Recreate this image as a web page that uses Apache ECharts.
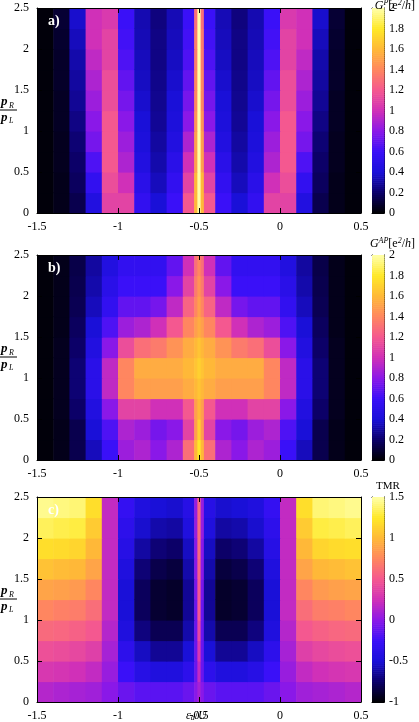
<!DOCTYPE html><html><head><meta charset="utf-8">
<script src="https://cdn.jsdelivr.net/npm/echarts@6/dist/echarts.min.js"></script>
<style>html,body{margin:0;padding:0;background:#fff}#c{width:419px;height:722px}</style></head><body><div id="c"></div>
<script>
const xEdges=[-1.5,-1.4,-1.3,-1.2,-1.1,-1.0,-0.9,-0.8,-0.7,-0.6,-0.53,-0.51,-0.49,-0.47,-0.4,-0.3,-0.2,-0.1,0,0.1,0.2,0.3,0.4,0.5];
const yEdges=[0,0.25,0.5,0.75,1,1.25,1.5,1.75,2,2.25,2.5];
const xTicks=[-1.5,-1,-0.5,0,0.5];
const gTicks=[0,0.2,0.4,0.6,0.8,1,1.2,1.4,1.6,1.8,2];
const tmrTicks=[-1,-0.5,0,0.5,1,1.5];
const panelA=[
[0.02,0.05,0.15,0.45,1.1,1.1,0.55,0.4,0.6,1.2,1.6,2.0,1.6,1.2,0.6,0.4,0.55,1.1,1.1,0.45,0.15,0.05,0.02],
[0.02,0.05,0.18,0.55,1.15,1.0,0.5,0.35,0.55,1.1,1.6,2.0,1.6,1.1,0.55,0.35,0.5,1.0,1.15,0.55,0.18,0.05,0.02],
[0.02,0.06,0.2,0.65,1.2,0.9,0.45,0.32,0.5,1.0,1.5,2.0,1.5,1.0,0.5,0.32,0.45,0.9,1.2,0.65,0.2,0.06,0.02],
[0.02,0.06,0.22,0.75,1.2,0.85,0.42,0.3,0.45,0.9,1.5,2.0,1.5,0.9,0.45,0.3,0.42,0.85,1.2,0.75,0.22,0.06,0.02],
[0.02,0.07,0.25,0.8,1.2,0.8,0.4,0.28,0.42,0.8,1.45,2.0,1.45,0.8,0.42,0.28,0.4,0.8,1.2,0.8,0.25,0.07,0.02],
[0.02,0.07,0.28,0.85,1.15,0.75,0.38,0.27,0.4,0.75,1.4,2.0,1.4,0.75,0.4,0.27,0.38,0.75,1.15,0.85,0.28,0.07,0.02],
[0.02,0.08,0.3,0.9,1.15,0.7,0.36,0.26,0.38,0.7,1.4,2.0,1.4,0.7,0.38,0.26,0.36,0.7,1.15,0.9,0.3,0.08,0.02],
[0.02,0.08,0.32,0.95,1.1,0.65,0.35,0.25,0.36,0.65,1.35,2.0,1.35,0.65,0.36,0.25,0.35,0.65,1.1,0.95,0.32,0.08,0.02],
[0.02,0.09,0.35,1.0,1.1,0.62,0.34,0.25,0.35,0.62,1.35,2.0,1.35,0.62,0.35,0.25,0.34,0.62,1.1,1.0,0.35,0.09,0.02],
[0.02,0.1,0.38,1.0,1.05,0.6,0.33,0.24,0.34,0.6,1.3,2.0,1.3,0.6,0.34,0.24,0.33,0.6,1.05,1.0,0.38,0.1,0.02]];
const panelB=[
[0.02,0.05,0.15,0.35,0.6,0.85,0.9,0.8,0.9,1.3,1.6,1.8,1.6,1.3,0.9,0.8,0.9,0.85,0.6,0.35,0.15,0.05,0.02],
[0.02,0.05,0.15,0.4,0.65,0.9,0.85,0.75,0.8,1.1,1.5,1.7,1.5,1.1,0.8,0.75,0.85,0.9,0.65,0.4,0.15,0.05,0.02],
[0.02,0.06,0.2,0.45,0.8,1.1,1.1,1.0,1.0,1.2,1.5,1.6,1.5,1.2,1.0,1.0,1.1,1.1,0.8,0.45,0.2,0.06,0.02],
[0.02,0.06,0.22,0.5,0.95,1.4,1.5,1.5,1.5,1.55,1.6,1.65,1.6,1.55,1.5,1.5,1.5,1.4,0.95,0.5,0.22,0.06,0.02],
[0.02,0.06,0.22,0.5,0.95,1.4,1.55,1.55,1.55,1.6,1.65,1.7,1.65,1.6,1.55,1.55,1.55,1.4,0.95,0.5,0.22,0.06,0.02],
[0.02,0.06,0.2,0.45,0.8,1.15,1.3,1.35,1.45,1.55,1.6,1.65,1.6,1.55,1.45,1.35,1.3,1.15,0.8,0.45,0.2,0.06,0.02],
[0.02,0.05,0.18,0.4,0.65,0.85,0.9,1.0,1.2,1.4,1.5,1.55,1.5,1.4,1.2,1.0,0.9,0.85,0.65,0.4,0.18,0.05,0.02],
[0.02,0.05,0.16,0.35,0.55,0.7,0.7,0.75,0.95,1.25,1.4,1.5,1.4,1.25,0.95,0.75,0.7,0.7,0.55,0.35,0.16,0.05,0.02],
[0.02,0.05,0.15,0.32,0.5,0.6,0.6,0.6,0.8,1.1,1.35,1.45,1.35,1.1,0.8,0.6,0.6,0.6,0.5,0.32,0.15,0.05,0.02],
[0.02,0.05,0.14,0.3,0.45,0.55,0.55,0.55,0.7,1.0,1.3,1.4,1.3,1.0,0.7,0.55,0.55,0.55,0.45,0.3,0.14,0.05,0.02]];
const panelC=[
[0.15,0.12,0.1,0.08,0.0,-0.1,-0.15,-0.15,-0.15,-0.1,0.0,0.1,0.0,-0.1,-0.15,-0.15,-0.15,-0.1,0.0,0.08,0.1,0.12,0.15],
[0.3,0.28,0.25,0.2,0.05,-0.25,-0.4,-0.45,-0.45,-0.35,-0.1,0.2,-0.1,-0.35,-0.45,-0.45,-0.4,-0.25,0.05,0.2,0.25,0.28,0.3],
[0.45,0.43,0.4,0.35,0.1,-0.35,-0.55,-0.65,-0.65,-0.5,-0.1,0.3,-0.1,-0.5,-0.65,-0.65,-0.55,-0.35,0.1,0.35,0.4,0.43,0.45],
[0.6,0.58,0.55,0.5,0.15,-0.45,-0.7,-0.8,-0.8,-0.6,-0.1,0.4,-0.1,-0.6,-0.8,-0.8,-0.7,-0.45,0.15,0.5,0.55,0.58,0.6],
[0.75,0.72,0.7,0.62,0.2,-0.5,-0.78,-0.88,-0.9,-0.65,-0.1,0.5,-0.1,-0.65,-0.9,-0.88,-0.78,-0.5,0.2,0.62,0.7,0.72,0.75],
[0.9,0.88,0.85,0.75,0.2,-0.5,-0.78,-0.88,-0.9,-0.65,-0.05,0.5,-0.05,-0.65,-0.9,-0.88,-0.78,-0.5,0.2,0.75,0.85,0.88,0.9],
[1.05,1.02,1.0,0.9,0.2,-0.45,-0.72,-0.82,-0.85,-0.6,0.0,0.55,0.0,-0.6,-0.85,-0.82,-0.72,-0.45,0.2,0.9,1.0,1.02,1.05],
[1.2,1.18,1.15,1.0,0.2,-0.4,-0.62,-0.72,-0.75,-0.55,0.0,0.6,0.0,-0.55,-0.75,-0.72,-0.62,-0.4,0.2,1.0,1.15,1.18,1.2],
[1.35,1.32,1.3,1.1,0.2,-0.35,-0.52,-0.6,-0.62,-0.45,0.05,0.6,0.05,-0.45,-0.62,-0.6,-0.52,-0.35,0.2,1.1,1.3,1.32,1.35],
[1.45,1.42,1.4,1.2,0.2,-0.3,-0.45,-0.5,-0.52,-0.4,0.05,0.6,0.05,-0.4,-0.52,-0.5,-0.45,-0.3,0.2,1.2,1.4,1.42,1.45]];
const palette=['#000000','#0c0068','#1a10d8','#3a10f8','#8a18e8','#d030b8','#f45890','#ff8660','#ffb838','#ffe828','#ffffa8'];
const FONT='Liberation Serif';
const tops=[8,255,497], H=205, L=37, W=324;
function cells(m){const d=[];m.forEach((row,j)=>row.forEach((v,i)=>d.push([xEdges[i],xEdges[i+1],yEdges[j],yEdges[j+1],v])));return d;}
function barCells(min,max){const d=[],n=100;for(let k=0;k<n;k++){const a=min+(max-min)*k/n,b=min+(max-min)*(k+1)/n;d.push([0,1,a,b,(a+b)/2]);}return d;}
function rect(p,api){const a=api.coord([api.value(0),api.value(3)]),b=api.coord([api.value(1),api.value(2)]);
 return {type:'rect',shape:{x:a[0],y:a[1],width:b[0]-a[0]+0.6,height:b[1]-a[1]+0.6},style:{fill:api.visual('color')}};}
const grid=[],xAxis=[],yAxis=[],series=[],visualMap=[];
const lab={fontFamily:FONT,fontSize:12,color:'#000'};
const line={show:true,onZero:false,lineStyle:{color:'#000'}};
const ranges=[[0,2,gTicks,0.2],[0,2,gTicks,0.2],[-1,1.5,tmrTicks,0.5]];
[panelA,panelB,panelC].forEach((m,p)=>{
 const gi=grid.length;
 grid.push({left:L,top:tops[p],width:W,height:H});
 grid.push({left:372,top:tops[p],width:12,height:H});
 const ax={type:'value',min:-1.5,max:0.5,interval:0.5,gridIndex:gi,axisLine:line,axisTick:{inside:true,length:5,lineStyle:{color:'#000'}},axisLabel:{...lab,margin:8},splitLine:{show:false},z:10};
 xAxis.push(ax);
 xAxis.push({...ax,position:'top',axisLabel:{show:false}});
 const ay={type:'value',min:0,max:2.5,interval:0.5,gridIndex:gi,axisLine:line,axisTick:{inside:true,length:5,lineStyle:{color:'#000'}},axisLabel:{...lab,margin:8},splitLine:{show:false},z:10};
 yAxis.push(ay);
 yAxis.push({...ay,position:'right',axisLabel:{show:false}});
 const [mn,mx,tk,iv]=ranges[p];
 xAxis.push({type:'value',min:0,max:1,gridIndex:gi+1,axisLine:line,axisTick:{show:false},axisLabel:{show:false},splitLine:{show:false}});
 xAxis.push({type:'value',min:0,max:1,gridIndex:gi+1,position:'top',axisLine:line,axisTick:{show:false},axisLabel:{show:false},splitLine:{show:false}});
 yAxis.push({type:'value',min:mn,max:mx,interval:iv,gridIndex:gi+1,position:'right',axisLine:line,axisTick:{inside:true,length:3,lineStyle:{color:'#000'}},axisLabel:{...lab,margin:5},splitLine:{show:false}});
 yAxis.push({type:'value',min:mn,max:mx,gridIndex:gi+1,position:'left',axisLine:line,axisTick:{show:false},axisLabel:{show:false},splitLine:{show:false}});
 const xi=p*4, yi=p*4;
 series.push({type:'custom',xAxisIndex:xi,yAxisIndex:yi,renderItem:rect,encode:{x:[0,1],y:[2,3]},data:cells(m),clip:true});
 series.push({type:'custom',xAxisIndex:xi+2,yAxisIndex:yi+2,renderItem:rect,encode:{x:[0,1],y:[2,3]},data:barCells(mn,mx)});
 visualMap.push({show:false,type:'continuous',min:mn,max:mx,dimension:4,seriesIndex:[p*2,p*2+1],inRange:{color:palette}});
});
const graphic=[];
['a)','b)','c)'].forEach((t,p)=>graphic.push({type:'text',left:48,top:tops[p]+6,z:100,style:{text:t,fill:'#fff',font:'bold 14px '+FONT}}));
function frac(y){graphic.push({type:'text',left:1,top:y-15,z:100,style:{text:'p',fill:'#000',font:'italic bold 13px '+FONT}});
 graphic.push({type:'text',left:9,top:y-8,z:100,style:{text:'R',fill:'#000',font:'italic 8px '+FONT}});
 graphic.push({type:'line',z:100,shape:{x1:0,y1:y,x2:17,y2:y},style:{stroke:'#000',lineWidth:1}});
 graphic.push({type:'text',left:1,top:y+1,z:100,style:{text:'p',fill:'#000',font:'italic bold 13px '+FONT}});
 graphic.push({type:'text',left:9,top:y+7,z:100,style:{text:'L',fill:'#000',font:'italic 8px '+FONT}});}
frac(tops[0]+102);frac(tops[1]+102);frac(tops[2]+102);
graphic.push({type:'text',right:4,top:-1,z:100,style:{text:'{i|G}{s|P}{n|[e}{s|2}{n|/}{i|h}{n|]}',rich:{i:{font:'italic 12px '+FONT,fill:'#000'},n:{font:'12px '+FONT,fill:'#000'},s:{font:'italic 8px '+FONT,fill:'#000',verticalAlign:'top',padding:[0,0,6,0]}}}});
graphic.push({type:'text',right:4,top:237,z:100,style:{text:'{i|G}{s|AP}{n|[e}{s|2}{n|/}{i|h}{n|]}',rich:{i:{font:'italic 12px '+FONT,fill:'#000'},n:{font:'12px '+FONT,fill:'#000'},s:{font:'italic 8px '+FONT,fill:'#000',verticalAlign:'top',padding:[0,0,6,0]}}}});
graphic.push({type:'text',left:376,top:481,z:100,style:{text:'TMR',fill:'#000',font:'11px '+FONT}});
graphic.push({type:'text',left:186,top:710,z:100,style:{text:'{i|ε}{s|d}{n|/}{i|U}',rich:{i:{font:'italic 12px '+FONT,fill:'#000'},n:{font:'12px '+FONT,fill:'#000'},s:{font:'italic 8px '+FONT,fill:'#000',verticalAlign:'bottom'}}}});
const chart=echarts.init(document.getElementById('c'),null,{renderer:'canvas'});
chart.setOption({animation:false,grid,xAxis,yAxis,series,visualMap,graphic});
</script></body></html>
